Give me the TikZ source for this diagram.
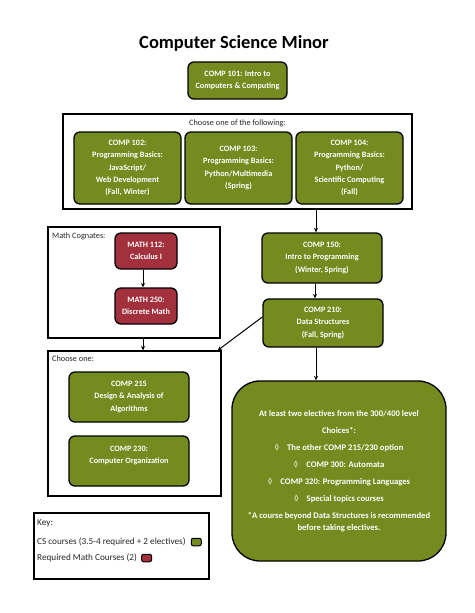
\documentclass[tikz,border=0pt]{standalone}
\usepackage{fontspec}
\setmainfont{Carlito}
\usetikzlibrary{arrows.meta}
\definecolor{cgreen}{HTML}{758B1F}
\definecolor{cred}{HTML}{A3303D}
\begin{document}
\begin{tikzpicture}[x=1pt,y=-1pt,
 course/.style={draw=black, line width=1.3pt, rounded corners=6pt, fill=cgreen, text=white, font=\bfseries\fontsize{8.2}{12.4}\selectfont, align=center, inner sep=0pt},
 mathc/.style={course, fill=cred},
 frame/.style={draw=black, line width=1.1pt, inner sep=0pt},
 lbl/.style={font=\fontsize{8.3}{9}\selectfont, text=black!85, inner sep=0pt},
 keytxt/.style={font=\fontsize{9.2}{10}\selectfont, text=black!85, inner sep=0pt, anchor=west},
 swatch/.style={draw=black, line width=1pt, rounded corners=2pt, minimum width=10pt, minimum height=7.5pt, inner sep=0pt, anchor=west},
 arr/.style={draw=black, line width=1pt, -{Stealth[length=4.5pt,width=4pt]}}]
\useasboundingbox (0,0) rectangle (474,613);

\node[font=\bfseries\fontsize{18.5}{20}\selectfont, inner sep=0pt] (title) at (234,43) {Computer Science Minor};

\node[course, minimum width=99pt, minimum height=37pt] (c101) at (237.5,80.5) {COMP 101: Intro to\\Computers \& Computing};

\node[frame, minimum width=349pt, minimum height=95pt] (choose) at (237.5,161.5) {};
\node[lbl] (chooselbl) at (237.5,123) {Choose one of the following:};
\node[course, minimum width=107pt, minimum height=72pt] (c102) at (127.5,168) {COMP 102:\\Programming Basics:\\JavaScript/\\Web Development\\(Fall, Winter)};
\node[course, minimum width=107pt, minimum height=72pt] (c103) at (238.5,168) {COMP 103:\\Programming Basics:\\Python/Multimedia\\(Spring)};
\node[course, minimum width=107pt, minimum height=72pt] (c104) at (349.5,168) {COMP 104:\\Programming Basics:\\Python/\\Scientific Computing\\(Fall)};

\node[frame, minimum width=172pt, minimum height=111pt] (mathbox) at (134,282.5) {};
\node[lbl, anchor=west] (mathlbl) at (52,236) {Math Cognates:};
\node[mathc, minimum width=62pt, minimum height=36pt] (m112) at (146,251) {MATH 112:\\Calculus I};
\node[mathc, minimum width=62pt, minimum height=36pt] (m250) at (146,306) {MATH 250:\\Discrete Math};

\node[course, minimum width=120pt, minimum height=50pt] (c150) at (322,258) {COMP 150:\\Intro to Programming\\(Winter, Spring)};
\node[course, minimum width=120pt, minimum height=48pt] (c210) at (323,323) {COMP 210:\\Data Structures\\(Fall, Spring)};

\node[frame, minimum width=173pt, minimum height=145pt] (choose1) at (134.5,423.5) {};
\node[lbl, anchor=west] (choose1lbl) at (52,359) {Choose one:};
\node[course, minimum width=120pt, minimum height=50pt] (c215) at (129,397) {COMP 215\\Design \& Analysis of\\Algorithms};
\node[course, minimum width=120pt, minimum height=50pt] (c230) at (129,461) {COMP 230:\\Computer Organization\\\mbox{}};

\node[course, rounded corners=28pt, minimum width=214pt, minimum height=180pt, font=\bfseries\fontsize{8.6}{17}\selectfont] (elect) at (339,471) {At least two electives from the 300/400 level\\
Choices*:\\
{\color{white!70!cgreen}\char"25CA}\hspace{8pt}The other COMP 215/230 option\\
{\color{white!70!cgreen}\char"25CA}\hspace{8pt}COMP 300: Automata\\
{\color{white!70!cgreen}\char"25CA}\hspace{8pt}COMP 320: Programming Languages\\
{\color{white!70!cgreen}\char"25CA}\hspace{8pt}Special topics courses\\
*A course beyond Data Structures is recommended\\[-5pt]
before taking electives.};

\node[frame, minimum width=175pt, minimum height=66pt] (key) at (121.5,546) {};
\node[keytxt] (keylbl) at (37,523) {Key:};
\node[keytxt] (keycs) at (37,542) {CS courses (3.5-4 required + 2 electives)};
\node[keytxt] (keymath) at (37,558) {Required Math Courses (2)};
\node[swatch, fill=cgreen] (swg) at ([xshift=5pt]keycs.east) {};
\node[swatch, fill=cred] (swr) at ([xshift=4pt]keymath.east) {};

\coordinate (a150) at ([xshift=-6pt]c150.north);
\draw[arr] (choose.south -| a150) -- (a150);
\coordinate (b150) at ([xshift=-7pt]c150.south);
\draw[arr] (b150) -- (b150 |- c210.north);
\coordinate (b210) at ([xshift=-7pt]c210.south);
\draw[arr] (b210) -- (b210 |- elect.north);
\draw[arr] ([yshift=6pt]c210.west) -- ([xshift=-4pt]choose1.north east);
\coordinate (am) at ([xshift=-3pt]m112.south);
\draw[arr] (am) -- (am |- m250.north);
\coordinate (bm) at ([xshift=9pt]mathbox.south);
\draw[arr] (bm) -- (bm |- choose1.north);
\end{tikzpicture}
\end{document}
